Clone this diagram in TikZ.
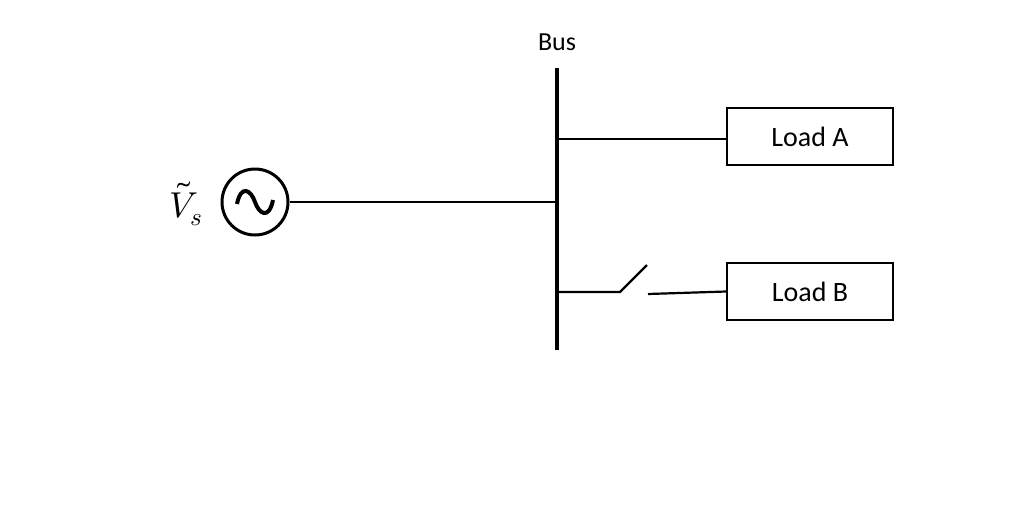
\documentclass[tikz,border=0pt]{standalone}
\usepackage{fontspec}
\setmainfont{Carlito}
\usepackage{unicode-math}
\setmathfont{Latin Modern Math}
\begin{document}
\begin{tikzpicture}[x=0.5pt,y=-0.5pt,
  wire/.style={line width=1.1pt},
  loadbox/.style={draw,line width=1.1pt,minimum width=83pt,minimum height=28.5pt,inner sep=0pt,font=\fontsize{14}{16}\selectfont}]
\useasboundingbox (0,0) rectangle (1024,527);
\coordinate (bt) at (557,68);
\coordinate (bb) at (557,350);
\draw[line width=2pt] (bt) -- (bb);
\node[font=\fontsize{13}{15}\selectfont] (buslbl) at (557,42) {Bus};
\node[draw,circle,line width=1.5pt,minimum size=33pt,inner sep=0pt] (src) at (255,202) {};
\draw[line width=2pt] (237,204) .. controls (241,184) and (251,190) .. (255,202) .. controls (259,214) and (269,220) .. (273,200);
\node[font=\fontsize{18}{20}\selectfont] (vs) at (186,204) {$\tilde{V}_s$};
\coordinate (j0) at (557,202);
\draw[wire] (src.east) -- (j0);
\node[loadbox] (la) at (810,136.5) {Load A};
\node[loadbox] (lb) at (810,291.5) {Load B};
\coordinate (ja) at (557,139);
\draw[wire] (ja) -- (la.west |- ja);
\coordinate (jb) at (557,292);
\coordinate (s1) at (620,292);
\coordinate (s2) at (647,265);
\coordinate (s3) at (648,294);
\draw[wire] (jb) -- (s1) -- (s2);
\draw[wire] (s3) -- (lb.west);
\end{tikzpicture}
\end{document}
